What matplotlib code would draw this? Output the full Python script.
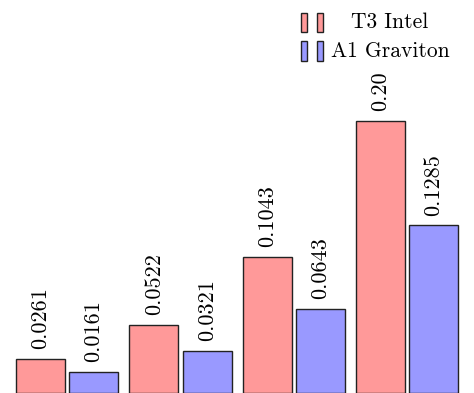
import numpy as np
import matplotlib
matplotlib.use('Agg')
import matplotlib.pyplot as plt
from matplotlib.patches import Rectangle

plt.rcParams['font.family'] = 'serif'
plt.rcParams['font.serif'] = ['cmr10']
plt.rcParams['mathtext.fontset'] = 'cm'
plt.rcParams['axes.unicode_minus'] = False

series = ['T3 Intel', 'A1 Graviton']
intel = [0.0261, 0.0522, 0.1043, 0.2087]
graviton = [0.0161, 0.0321, 0.0643, 0.1285]
# the last intel label is cut off at the top in the original
labels_intel = ['0.0261', '0.0522', '0.1043', '0.20']
labels_grav = ['0.0161', '0.0321', '0.0643', '0.1285']
colors = ['#ff9999', '#9999ff']

W, H = 474, 393
fig = plt.figure(figsize=(W / 100, H / 100), dpi=100)
ax = fig.add_axes([0, 0, 1, 1 - 72 / H])

x = np.arange(len(intel))
w = 0.4325
off = 0.235
b1 = ax.bar(x - off, intel, w, color=colors[0], edgecolor='#222222', linewidth=1.0)
b2 = ax.bar(x + off, graviton, w, color=colors[1], edgecolor='#222222', linewidth=1.0)

for bars, labs in [(b1, labels_intel), (b2, labels_grav)]:
    for r, lab in zip(bars, labs):
        ax.annotate(lab, (r.get_x() + r.get_width() / 2, r.get_height()),
                    xytext=(0, 7), textcoords='offset points', rotation=90,
                    ha='center', va='bottom', fontsize=16)

ax.set_xlim(-0.593, 3.590)
ax.set_ylim(0, 321 / 1305)
ax.axis('off')

# legend drawn by hand: two small bars per entry, centred text
rows = [22.5, 51.0]
for lab, c, yc in zip(series, colors, rows):
    for xl in [300.5, 316.5]:
        fig.add_artist(Rectangle((xl / W, 1 - (yc + 9.5) / H), 6.5 / W, 19 / H,
                                 transform=fig.transFigure, facecolor=c,
                                 edgecolor='#222222', linewidth=1.0))
    fig.text(390 / W, 1 - yc / H, lab, ha='center', va='center', fontsize=15.5)

plt.savefig('out.png', dpi=100)
